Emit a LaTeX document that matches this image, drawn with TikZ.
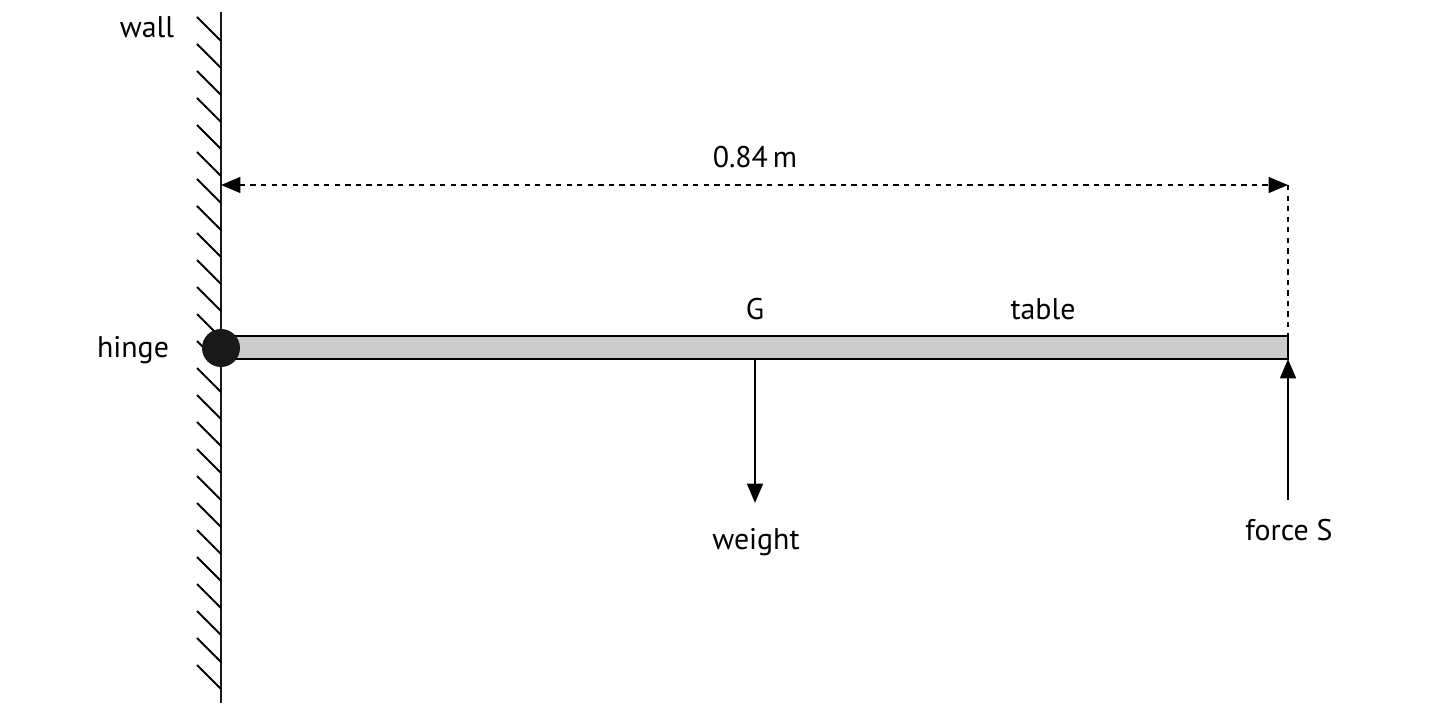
\documentclass[tikz,border=0pt]{standalone}
\usepackage{fontspec}
\setmainfont{PT Sans}
\usetikzlibrary{arrows.meta}
\begin{document}
\begin{tikzpicture}[x=0.02cm,y=-0.02cm,
  lbl/.style={font=\fontsize{17}{20}\selectfont,inner sep=0pt},
  ln/.style={line width=1.4pt,color=black!90},
  tip/.style={-{Triangle[length=11pt,width=9pt]}}]
\useasboundingbox (0,0) rectangle (1448,726);
\draw[ln] (221,12) -- (221,703);
\foreach \y in {17,44,...,680} \draw[line width=1.2pt] (197,\y) -- (221,\y+24);
\draw[line width=1pt,fill=black!20] (221,336) rectangle (1288,359);
\node[circle,fill=black!90,minimum size=0.76cm,inner sep=0pt] (hinge) at (221,348) {};
\coordinate (L) at (221,185);
\coordinate (R) at (1288,185);
\coordinate (Rb) at (1288,336);
\draw[line width=1pt,dashed,{Triangle[length=11pt,width=9pt]}-{Triangle[length=11pt,width=9pt]}] (L) -- (R);
\draw[line width=1pt,dashed] (R) -- (Rb);
\coordinate (G) at (755,359);
\coordinate (Wend) at (755,503);
\draw[line width=1.2pt,tip] (G) -- (Wend);
\coordinate (Sstart) at (1288,500);
\coordinate (Send) at (1288,359);
\draw[line width=1.2pt,tip] (Sstart) -- (Send);
\node[lbl] (d) at (755,157) {0.84\,m};
\node[lbl] (gl) at (755,309) {G};
\node[lbl] (tl) at (1043,309) {table};
\node[lbl] (wl) at (756,542) {weight};
\node[lbl] (fl) at (1289,530) {force S};
\node[lbl] (hl) at (133,350) {hinge};
\node[lbl] (wa) at (147,27) {wall};
\end{tikzpicture}
\end{document}
